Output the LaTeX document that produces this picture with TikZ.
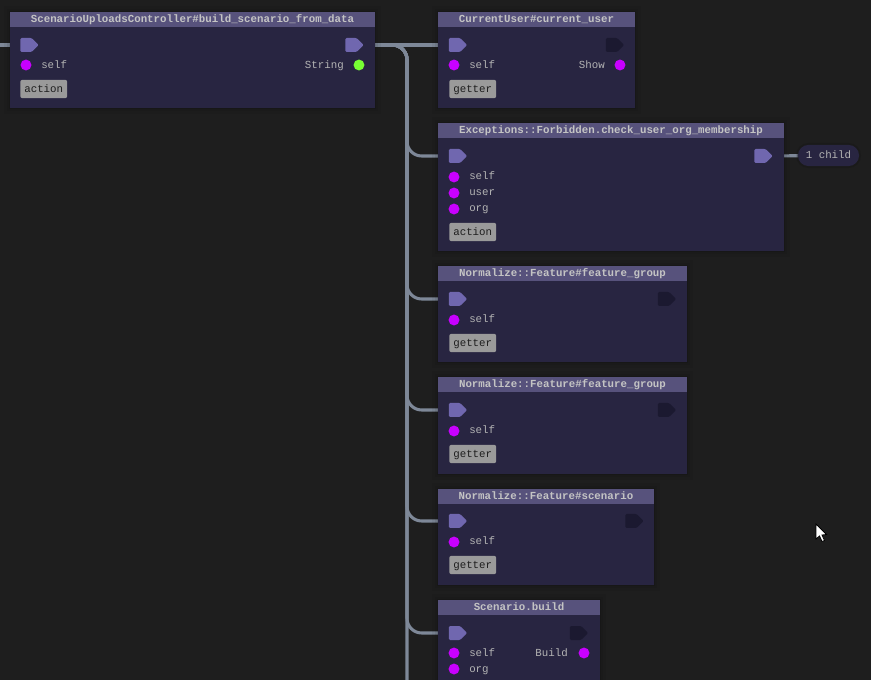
\documentclass[tikz,border=0pt]{standalone}
\usepackage{fontspec}
\usepackage{tikz}
\usetikzlibrary{shapes.symbols,backgrounds}
\setmonofont{Liberation Mono}
\definecolor{canvasbg}{HTML}{1E1E1E}
\definecolor{bodybg}{HTML}{282541}
\definecolor{headbg}{HTML}{57527C}
\definecolor{wirecol}{HTML}{7E8898}
\definecolor{flowon}{HTML}{7067AF}
\definecolor{flowoff}{HTML}{1B1930}
\definecolor{dotpink}{HTML}{C800FF}
\definecolor{dotgreen}{HTML}{77FF33}
\definecolor{tagbg}{HTML}{9A9A9A}
\definecolor{textcol}{HTML}{B4B4B4}
\definecolor{headtext}{HTML}{C4C4C4}
\tikzset{
  nodebody/.style={anchor=north west,fill=bodybg,inner sep=0pt,outer sep=0pt,
    preaction={draw=black,draw opacity=.05,line width=9pt},
    preaction={draw=black,draw opacity=.07,line width=5pt},
    preaction={draw=black,draw opacity=.09,line width=2pt}},
  nodehead/.style={anchor=north west,fill=headbg,inner sep=0pt,outer sep=0pt,minimum height=11.6pt,
    text=headtext,font=\ttfamily\bfseries\fontsize{8.08}{10}\selectfont,text height=5.8pt,text depth=1.0pt},
  flowport/.style={shape=signal,signal to=east,fill=flowon,inner sep=0pt,outer sep=0pt,xshift=-2.6pt,
    minimum width=13.8pt,minimum height=10.5pt,rounded corners=1pt},
  flowdark/.style={flowport,fill=flowoff},
  valdot/.style={circle,fill=dotpink,inner sep=0pt,minimum size=8.2pt},
  vallabel/.style={inner sep=0pt,text=textcol,font=\ttfamily\fontsize{8.08}{10}\selectfont,text height=6.4pt,text depth=0.5pt},
  kindtag/.style={anchor=west,fill=tagbg,rounded corners=1.6pt,inner sep=0pt,minimum width=35.2pt,minimum height=13.8pt,
    text=canvasbg,font=\ttfamily\fontsize{8.08}{10}\selectfont,text height=6.4pt,text depth=0.5pt},
  childpill/.style={fill=bodybg,rounded corners=7.8pt,inner sep=0pt,minimum width=45.8pt,minimum height=15.8pt,
    text=textcol,font=\ttfamily\fontsize{8.08}{10}\selectfont,text height=6pt,text depth=0.9pt,
    preaction={draw=black,draw opacity=.1,line width=3pt}},
  wire/.style={draw=wirecol,line width=2.3pt,rounded corners=11pt},
}
\begin{document}
\begin{tikzpicture}[x=0.75pt,y=0.75pt,yscale=-1,xscale=1]
\useasboundingbox (0,0) rectangle (871,680);

%Box: controller action
\draw (10,12) node (ctrl) [nodebody,minimum width=273.75pt,minimum height=72pt] {};
\draw (10,12) node (ctrlhead) [nodehead,minimum width=273.75pt] {ScenarioUploadsController\#build\_scenario\_from\_data};
\draw (29.5,45) node (ctrlin) [flowport] {};
\draw (354.5,45) node (ctrlout) [flowport] {};
\draw (26,65) node (ctrlself) [valdot] {};
\draw (41,65) node (ctrlselftxt) [vallabel,anchor=west] {self};
\draw (344,65) node (ctrlrettxt) [vallabel,anchor=east] {String};
\draw (359,65) node (ctrlret) [valdot,fill=dotgreen] {};
\draw (20,89) node (ctrltag) [kindtag] {action};

%Box: current user
\draw (438,12) node (user) [nodebody,minimum width=147.75pt,minimum height=72pt] {};
\draw (438,12) node (userhead) [nodehead,minimum width=147.75pt] {CurrentUser\#current\_user};
\draw (458,45) node (userin) [flowport] {};
\draw (615,45) node (userout) [flowdark] {};
\draw (454,65) node (userself) [valdot] {};
\draw (469,65) node (userselftxt) [vallabel,anchor=west] {self};
\draw (605,65) node (userrettxt) [vallabel,anchor=east] {Show};
\draw (620,65) node (userret) [valdot] {};
\draw (449,89) node (usertag) [kindtag] {getter};

%Box: membership check
\draw (438,123) node (forbid) [nodebody,minimum width=259.5pt,minimum height=96pt] {};
\draw (438,123) node (forbidhead) [nodehead,minimum width=259.5pt] {Exceptions::Forbidden.check\_user\_org\_membership};
\draw (458,156) node (forbidin) [flowport] {};
\draw (763.5,156) node (forbidout) [flowport] {};
\draw (454,177) node (forbidself) [valdot] {};
\draw (469,176) node (forbidselftxt) [vallabel,anchor=west] {self};
\draw (454,193) node (forbiduser) [valdot] {};
\draw (469,192) node (forbidusertxt) [vallabel,anchor=west] {user};
\draw (454,209) node (forbidorg) [valdot] {};
\draw (469,208) node (forbidorgtxt) [vallabel,anchor=west] {org};
\draw (449,232) node (forbidtag) [kindtag] {action};
\draw (828.5,155.5) node (forbidchild) [childpill] {1 child};

%Box: feature group, first
\draw (438,266) node (groupa) [nodebody,minimum width=186.75pt,minimum height=72pt] {};
\draw (438,266) node (groupahead) [nodehead,minimum width=186.75pt] {Normalize::Feature\#feature\_group};
\draw (458,299) node (groupain) [flowport] {};
\draw (667,299) node (groupaout) [flowdark] {};
\draw (454,320) node (groupaself) [valdot] {};
\draw (469,319) node (groupaselftxt) [vallabel,anchor=west] {self};
\draw (449,343) node (groupatag) [kindtag] {getter};

%Box: feature group, second
\draw (438,377) node (groupb) [nodebody,minimum width=186.75pt,minimum height=72.75pt] {};
\draw (438,377) node (groupbhead) [nodehead,minimum width=186.75pt] {Normalize::Feature\#feature\_group};
\draw (458,410) node (groupbin) [flowport] {};
\draw (667,410) node (groupbout) [flowdark] {};
\draw (454,431) node (groupbself) [valdot] {};
\draw (469,430) node (groupbselftxt) [vallabel,anchor=west] {self};
\draw (449,454) node (groupbtag) [kindtag] {getter};

%Box: scenario getter
\draw (438,489) node (getter) [nodebody,minimum width=162pt,minimum height=72pt] {};
\draw (438,489) node (getterhead) [nodehead,minimum width=162pt] {Normalize::Feature\#scenario};
\draw (458,521) node (getterin) [flowport] {};
\draw (634.5,521) node (getterout) [flowdark] {};
\draw (454,542) node (getterself) [valdot] {};
\draw (469,541) node (getterselftxt) [vallabel,anchor=west] {self};
\draw (449,565) node (gettertag) [kindtag] {getter};

%Box: scenario build, runs off the page
\draw (438,600) node (build) [nodebody,minimum width=121.5pt,minimum height=60pt] {};
\draw (438,600) node (buildhead) [nodehead,minimum width=121.5pt] {Scenario.build};
\draw (458,633) node (buildin) [flowport] {};
\draw (579,633) node (buildout) [flowdark] {};
\draw (454,653) node (buildself) [valdot] {};
\draw (469,653) node (buildselftxt) [vallabel,anchor=west] {self};
\draw (568,653) node (buildrettxt) [vallabel,anchor=east] {Build};
\draw (584,653) node (buildret) [valdot] {};
\draw (454,669) node (buildorg) [valdot] {};
\draw (469,669) node (buildorgtxt) [vallabel,anchor=west] {org};

%Free ends
\coordinate (leftedge) at (0,45);
\coordinate (bus) at (407,45);
\coordinate (busend) at (407,680);

%Connectors
\begin{pgfonlayer}{background}
\fill [canvasbg] (0,0) rectangle (871,680);
\draw [wire] (leftedge) -- (ctrlin);
\draw [wire] (ctrlout) -- (userin);
\draw [wire] (ctrlout) -- (bus) |- (forbidin);
\draw [wire] (ctrlout) -- (bus) |- (groupain);
\draw [wire] (ctrlout) -- (bus) |- (groupbin);
\draw [wire] (ctrlout) -- (bus) |- (getterin);
\draw [wire] (ctrlout) -- (bus) |- (buildin);
\draw [wire] (ctrlout) -- (bus) -- (busend);
\draw [wire] (forbidout) -- (forbidchild);
\end{pgfonlayer}

%Mouse pointer
\draw [fill=white,draw=black,line width=0.6pt] (816,524) -- (816,539) -- (819.5,536) -- (822,541.5) -- (824.5,540.5) -- (822,535) -- (826.5,534.5) -- cycle;

\end{tikzpicture}
\end{document}
